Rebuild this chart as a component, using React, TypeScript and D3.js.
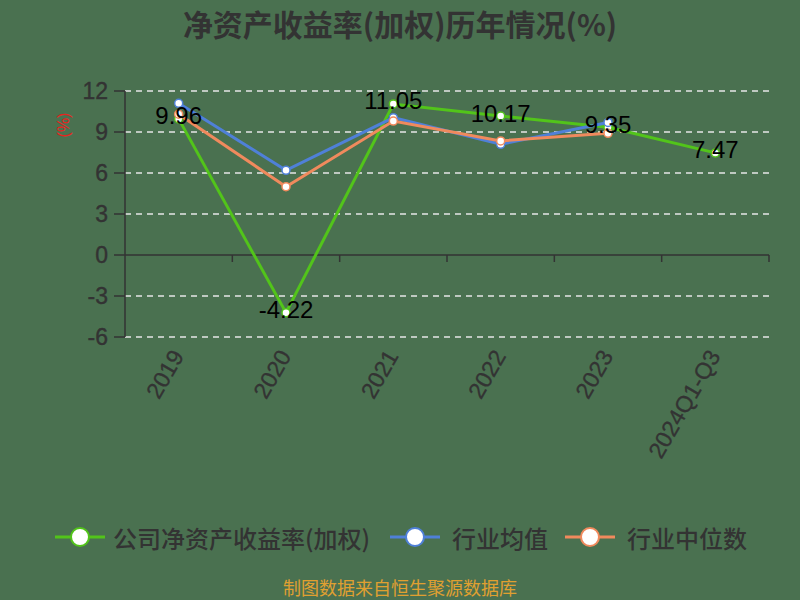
import React from "react";
import * as d3 from "d3";

const categories = ["2019", "2020", "2021", "2022", "2023", "2024Q1-Q3"];
const companyValues = [9.96, -4.22, 11.05, 10.17, 9.35, 7.47];
const industryMean = [11.1, 6.2, 10.05, 8.1, 9.7, null];
const industryMedian = [10.3, 5.0, 9.8, 8.35, 8.9, null];
const yTicks = [-6, -3, 0, 3, 6, 9, 12];

const seriesNames = ["公司净资产收益率(加权)", "行业均值", "行业中位数"];
const seriesColors = ["#52c41a", "#4f80d8", "#f08a5d"];

const W = 800;
const H = 600;
const BG = "#4a7150";
const FONT = "'Liberation Sans', Arial, 'Noto Sans CJK SC', sans-serif";
const CJK = "'Noto Sans CJK SC', sans-serif";

export default function App() {
  const x = d3.scaleBand<string>().domain(categories).range([125, 769]);
  const y = d3.scaleLinear().domain([-6, 12]).range([337, 91]);
  const cx = (c: string) => (x(c) as number) + x.bandwidth() / 2;

  const series = [companyValues, industryMean, industryMedian];
  const line = d3
    .line<{ c: string; v: number | null }>()
    .defined((d) => d.v !== null)
    .x((d) => cx(d.c))
    .y((d) => y(d.v as number));

  const legendItems = [
    { lx: 55, tx: 113 },
    { lx: 390, tx: 452 },
    { lx: 565, tx: 627 },
  ];

  return (
    <svg
      width={W}
      height={H}
      style={{ position: "fixed", left: 0, top: 0 }}
      fontFamily={FONT}
    >
      <rect x={0} y={0} width={W} height={H} fill={BG} />
      <text
        x={400}
        y={23}
        textAnchor="middle"
        dominantBaseline="central"
        fontSize={30}
        fontWeight="bold"
        fill="#333"
        fontFamily={CJK}
      >
        净资产收益率(加权)历年情况(%)
      </text>

      {/* grid */}
      {yTicks.map((t) =>
        t === 0 ? null : (
          <line
            key={"g" + t}
            x1={125}
            x2={769}
            y1={y(t)}
            y2={y(t)}
            stroke="#e6e6e6"
            strokeWidth={1.5}
            strokeDasharray="6 5"
          />
        )
      )}
      {/* y axis */}
      <line x1={125} x2={125} y1={y(12)} y2={y(-6)} stroke="#333" strokeWidth={1.5} />
      {yTicks.map((t) => (
        <g key={"yt" + t}>
          <line x1={114} x2={125} y1={y(t)} y2={y(t)} stroke="#333" strokeWidth={1.5} />
          <text
            x={108}
            y={y(t)}
            textAnchor="end"
            dominantBaseline="central"
            fontSize={23}
            fill="#333"
            stroke="#333"
            strokeWidth={0.4}
          >
            {t}
          </text>
        </g>
      ))}
      <text
        transform={`translate(63,125) rotate(-90)`}
        textAnchor="middle"
        dominantBaseline="central"
        fontSize={16}
        fill="#e8231e"
      >
        (%)
      </text>
      {/* x axis at zero */}
      <line x1={125} x2={769} y1={y(0)} y2={y(0)} stroke="#333" strokeWidth={1.5} />
      {categories.map((c, i) => (
        <line
          key={"xt" + i}
          x1={(x(c) as number) + x.bandwidth()}
          x2={(x(c) as number) + x.bandwidth()}
          y1={y(0)}
          y2={y(0) + 7}
          stroke="#333"
          strokeWidth={1.5}
        />
      ))}
      {categories.map((c) => (
        <text
          key={"xl" + c}
          transform={`translate(${cx(c) - 1},352) rotate(-60)`}
          textAnchor="end"
          dominantBaseline="central"
          fontSize={23}
          fill="#333"
          stroke="#333"
          strokeWidth={0.3}
        >
          {c}
        </text>
      ))}

      {/* lines */}
      {series.map((vals, si) => {
        const data = categories.map((c, i) => ({ c, v: vals[i] as number | null }));
        return (
          <g key={"s" + si}>
            <path
              d={line(data) as string}
              fill="none"
              stroke={seriesColors[si]}
              strokeWidth={3}
            />
            {data
              .filter((d) => d.v !== null)
              .map((d) => (
                <circle
                  key={d.c}
                  cx={cx(d.c)}
                  cy={y(d.v as number)}
                  r={4}
                  fill="#fff"
                  stroke={seriesColors[si]}
                  strokeWidth={1.5}
                />
              ))}
          </g>
        );
      })}
      {/* company labels */}
      {categories.map((c, i) => (
        <text
          key={"lab" + c}
          x={cx(c)}
          y={y(companyValues[i]) - 3}
          textAnchor="middle"
          dominantBaseline="central"
          fontSize={24}
          fill="#000"
        >
          {companyValues[i].toFixed(2)}
        </text>
      ))}

      {/* legend */}
      {legendItems.map((it, i) => (
        <g key={"lg" + i}>
          <line
            x1={it.lx}
            x2={it.lx + 50}
            y1={537}
            y2={537}
            stroke={seriesColors[i]}
            strokeWidth={3}
          />
          <circle
            cx={it.lx + 25}
            cy={537}
            r={9}
            fill="#fff"
            stroke={seriesColors[i]}
            strokeWidth={2}
          />
          <text
            x={it.tx}
            y={537}
            dominantBaseline="central"
            fontSize={24}
            fill="#333"
            fontWeight={500}
            fontFamily={CJK}
          >
            {seriesNames[i]}
          </text>
        </g>
      ))}

      <text
        x={400}
        y={587}
        textAnchor="middle"
        dominantBaseline="central"
        fontSize={18}
        fill="#e0a030"
        fontFamily={CJK}
      >
        制图数据来自恒生聚源数据库
      </text>
    </svg>
  );
}
